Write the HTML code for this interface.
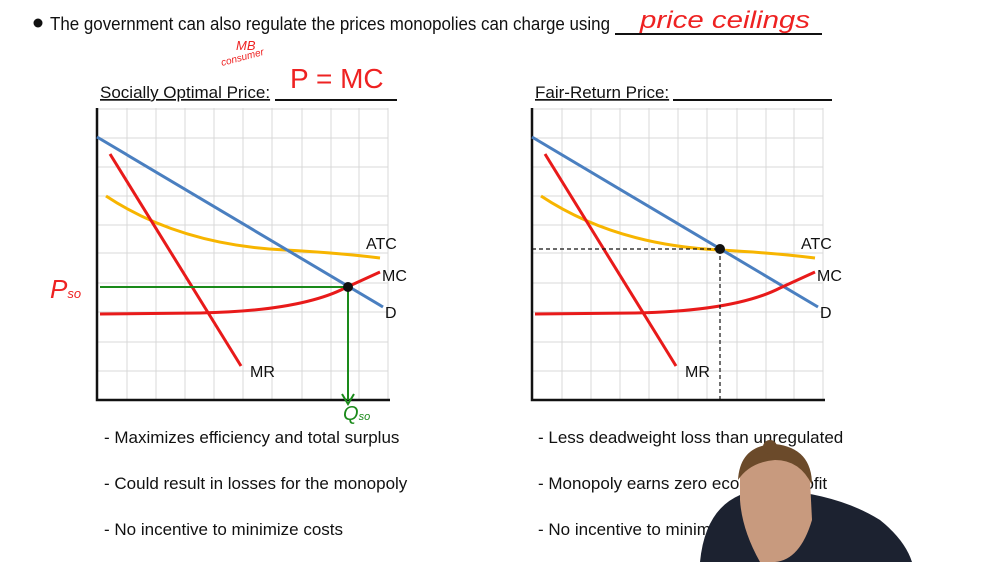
<!DOCTYPE html>
<html><head><meta charset="utf-8"><style>
body{margin:0;background:#fff;}
svg{display:block;font-family:"Liberation Sans",sans-serif;}
</style></head><body>
<svg width="1000" height="562" viewBox="0 0 1000 562">
<rect width="1000" height="562" fill="#fff"/>
<circle cx="38" cy="23" r="4.5" fill="#111"/>
<text x="50" y="30" font-size="18" fill="#111" textLength="560" lengthAdjust="spacingAndGlyphs">The government can also regulate the prices monopolies can charge using</text>
<line x1="615" y1="34" x2="822" y2="34" stroke="#111" stroke-width="2"/>
<text x="640" y="28" font-size="24" fill="#e22" font-style="italic" textLength="170" lengthAdjust="spacingAndGlyphs">price ceilings</text>
<text x="236" y="50" font-size="13" fill="#e22" font-style="italic">MB</text>
<text x="222" y="66" font-size="10" fill="#e22" font-style="italic" transform="rotate(-15 222 66)">consumer</text>
<text x="290" y="88" font-size="28" fill="#e22">P = MC</text>
<text x="100" y="98" font-size="17" fill="#111" text-decoration="underline">Socially Optimal Price:</text>
<line x1="275" y1="100" x2="397" y2="100" stroke="#111" stroke-width="2"/>
<text x="535" y="98" font-size="17" fill="#111" text-decoration="underline">Fair-Return Price:</text>
<line x1="673" y1="100" x2="832" y2="100" stroke="#111" stroke-width="2"/>
<g id="chart">
<g stroke="#d8d8d8" stroke-width="1">
<line x1="127" y1="108" x2="127" y2="400"/><line x1="156" y1="108" x2="156" y2="400"/><line x1="185" y1="108" x2="185" y2="400"/><line x1="214" y1="108" x2="214" y2="400"/><line x1="243" y1="108" x2="243" y2="400"/><line x1="272" y1="108" x2="272" y2="400"/><line x1="302" y1="108" x2="302" y2="400"/><line x1="331" y1="108" x2="331" y2="400"/><line x1="359" y1="108" x2="359" y2="400"/><line x1="388" y1="108" x2="388" y2="400"/>
<line x1="97" y1="109" x2="388" y2="109"/><line x1="97" y1="138" x2="388" y2="138"/><line x1="97" y1="167" x2="388" y2="167"/><line x1="97" y1="196" x2="388" y2="196"/><line x1="97" y1="225" x2="388" y2="225"/><line x1="97" y1="253" x2="388" y2="253"/><line x1="97" y1="283" x2="388" y2="283"/><line x1="97" y1="312" x2="388" y2="312"/><line x1="97" y1="342" x2="388" y2="342"/><line x1="97" y1="371" x2="388" y2="371"/>
</g>
<path d="M97 108 V400 H390" fill="none" stroke="#111" stroke-width="2.5"/>
<path d="M106 196 Q180 245 285 250 Q340 253 380 258" fill="none" stroke="#f7b500" stroke-width="3"/>
<line x1="97" y1="137" x2="383" y2="307" stroke="#4a7fc0" stroke-width="3"/>
<line x1="110" y1="154" x2="241" y2="366" stroke="#e81a1a" stroke-width="3"/>
<path d="M100 314 L200 313 Q300 311 345 288 L380 272" fill="none" stroke="#e81a1a" stroke-width="3"/>
<text x="366" y="249" font-size="16" fill="#111">ATC</text>
<text x="382" y="281" font-size="16" fill="#111">MC</text>
<text x="385" y="318" font-size="16" fill="#111">D</text>
<text x="250" y="377" font-size="16" fill="#111">MR</text>
</g>
<use href="#chart" transform="translate(435 0)"/>
<g stroke="#1a8a1a" stroke-width="2" fill="none">
<line x1="100" y1="287" x2="345" y2="287"/><line x1="348" y1="290" x2="348" y2="400"/>
<path d="M342 394 L348 404 L354 394"/>
</g>
<circle cx="348" cy="287" r="5" fill="#111"/>
<text x="50" y="298" font-size="26" fill="#e22" font-style="italic">P<tspan font-size="13">so</tspan></text>
<text x="343" y="420" font-size="20" fill="#1a8a1a" font-style="italic">Q<tspan font-size="11">so</tspan></text>
<g stroke="#111" stroke-width="1.2" stroke-dasharray="4,3">
<line x1="532" y1="249" x2="720" y2="249"/><line x1="720" y1="249" x2="720" y2="400"/>
</g>
<circle cx="720" cy="249" r="5" fill="#111"/>
<g font-size="17" fill="#111">
<text x="104" y="443">- Maximizes efficiency and total surplus</text>
<text x="104" y="489">- Could result in losses for the monopoly</text>
<text x="104" y="535">- No incentive to minimize costs</text>
<text x="538" y="443">- Less deadweight loss than unregulated</text>
<text x="538" y="489">- Monopoly earns zero economic profit</text>
<text x="538" y="535">- No incentive to minimize costs</text>
</g>
<path d="M700 562 Q705 510 740 495 L780 490 Q840 495 880 520 Q905 540 912 562 Z" fill="#1c2230"/>
<path d="M740 470 Q745 445 775 447 Q805 450 810 480 L812 520 Q800 560 775 562 L760 562 Q742 530 740 500 Z" fill="#c89a7e"/>
<path d="M738 480 Q740 445 775 444 Q812 448 812 485 Q800 460 775 460 Q750 462 738 480 Z" fill="#6b4a2a"/>
<circle cx="770" cy="447" r="7" fill="#6b4a2a"/>
</svg>
</body></html>
